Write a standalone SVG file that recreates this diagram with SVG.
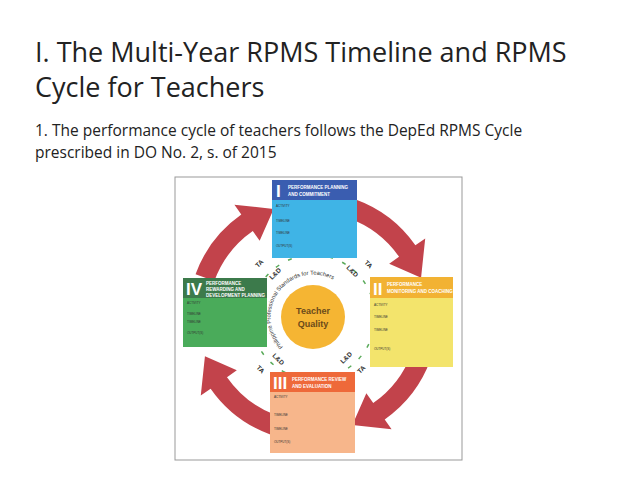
<svg xmlns="http://www.w3.org/2000/svg" width="638" height="479" viewBox="0 0 638 479">
<defs>
<path id="arw" d="M42.75,-117.46 A125,125 0 0 1 102.39,-71.70 L112.22,-78.58 L108.06,-39.33 L76.18,-53.34 L86.01,-60.23 A105,105 0 0 0 35.91,-98.67 Z"/>
</defs>
<style>
.t{font-family:"Open Sans","Liberation Sans",sans-serif;fill:#222}
.h{font-family:"Liberation Sans",sans-serif;font-weight:bold;font-size:4.5px;fill:#fff}
.n{font-family:"Liberation Sans",sans-serif;font-weight:bold;fill:#fff}
.s{font-family:"Liberation Sans",sans-serif;font-size:3px;fill:#333}
.arr{fill:#c2434b}
.lbl{font-family:"Liberation Sans",sans-serif;font-weight:bold;font-size:6.5px;fill:#333}
</style>
<rect width="638" height="479" fill="#fff"/>
<text class="t" x="35" y="62" font-size="27">I. The Multi-Year RPMS Timeline and RPMS</text>
<text class="t" x="35" y="97" font-size="27">Cycle for Teachers</text>
<text class="t" x="35" y="136" font-size="15.5">1. The performance cycle of teachers follows the DepEd RPMS Cycle</text>
<text class="t" x="35" y="158" font-size="15.5">prescribed in DO No. 2, s. of 2015</text>
<rect x="175" y="177" width="287" height="283" fill="#fff" stroke="#999" stroke-width="1"/>
<g id="connectors" class="arr">
<use href="#arw" transform="translate(313,317)"/>
<use href="#arw" transform="translate(313,317) rotate(90)"/>
<use href="#arw" transform="translate(313,317) rotate(180)"/>
<use href="#arw" transform="translate(313,317) rotate(270)"/>
</g>
<g id="ring">
<circle cx="313" cy="317" r="62" fill="none" stroke="#5aaa5a" stroke-width="1.5" stroke-dasharray="4,10"/>
<text class="lbl" x="258" y="268" transform="rotate(-45 258 268)">TA</text>
<text class="lbl" x="272" y="280" transform="rotate(-45 272 280)">L&amp;D</text>
<text class="lbl" x="364" y="263" transform="rotate(45 364 263)">TA</text>
<text class="lbl" x="346" y="268" transform="rotate(45 346 268)">L&amp;D</text>
<text class="lbl" x="360" y="374" transform="rotate(-45 360 374)">TA</text>
<text class="lbl" x="343" y="364" transform="rotate(-45 343 364)">L&amp;D</text>
<text class="lbl" x="256" y="368" transform="rotate(45 256 368)">TA</text>
<text class="lbl" x="272" y="356" transform="rotate(45 272 356)">L&amp;D</text>
<path id="arc" d="M283,347 A42.4,42.4 0 1 1 343,347" fill="none"/>
<text font-family="Liberation Sans,sans-serif" font-size="5.8" fill="#333"><textPath href="#arc">Philippine Professional Standards for Teachers</textPath></text>
</g>
<g id="center">
<circle cx="313" cy="317" r="32" fill="#f5b533"/>
<text x="313" y="314" text-anchor="middle" font-family="Liberation Sans,sans-serif" font-weight="bold" font-size="9" fill="#6b4a1a">Teacher</text>
<text x="313" y="327" text-anchor="middle" font-family="Liberation Sans,sans-serif" font-weight="bold" font-size="9" fill="#6b4a1a">Quality</text>
</g>
<g id="phase1">
<rect x="272" y="180" width="85" height="78" fill="#3fb4e6"/>
<rect x="272" y="180" width="85" height="20" fill="#3a5db0"/>
<text class="n" x="276" y="197" font-size="17">I</text>
<text class="h" x="288" y="189">PERFORMANCE PLANNING</text>
<text class="h" x="288" y="196">AND COMMITMENT</text>
<text class="s" x="276" y="207">ACTIVITY</text><text class="s" x="276" y="222">TIMELINE</text><text class="s" x="276" y="234">TIMELINE</text><text class="s" x="276" y="247">OUTPUT(S)</text>
</g>
<g id="phase2">
<rect x="370" y="277" width="83" height="90" fill="#f3e46c"/>
<rect x="370" y="277" width="83" height="21" fill="#f2b233"/>
<text class="n" x="373" y="295" font-size="17">II</text>
<text class="h" x="387" y="286">PERFORMANCE</text>
<text class="h" x="387" y="293">MONITORING AND COACHING</text>
<text class="s" x="374" y="306">ACTIVITY</text><text class="s" x="374" y="318">TIMELINE</text><text class="s" x="374" y="331">TIMELINE</text><text class="s" x="374" y="350">OUTPUT(S)</text>
</g>
<g id="phase3">
<rect x="270" y="372" width="85" height="81" fill="#f7b68b"/>
<rect x="270" y="372" width="85" height="20" fill="#ee693a"/>
<text class="n" x="273" y="389" font-size="17">III</text>
<text class="h" x="292" y="381">PERFORMANCE REVIEW</text>
<text class="h" x="292" y="388">AND EVALUATION</text>
<text class="s" x="274" y="398">ACTIVITY</text><text class="s" x="274" y="416">TIMELINE</text><text class="s" x="274" y="430">TIMELINE</text><text class="s" x="274" y="443">OUTPUT(S)</text>
</g>
<g id="phase4">
<rect x="183" y="278" width="84" height="69" fill="#4aab5a"/>
<rect x="183" y="278" width="84" height="20" fill="#3c7a4b"/>
<text class="n" x="186" y="295" font-size="17">IV</text>
<text class="h" x="206" y="285">PERFORMANCE</text>
<text class="h" x="206" y="291">REWARDING AND</text>
<text class="h" x="206" y="297">DEVELOPMENT PLANNING</text>
<text class="s" x="187" y="304">ACTIVITY</text><text class="s" x="187" y="315">TIMELINE</text><text class="s" x="187" y="323">TIMELINE</text><text class="s" x="187" y="334">OUTPUT(S)</text>
</g>
</svg>
